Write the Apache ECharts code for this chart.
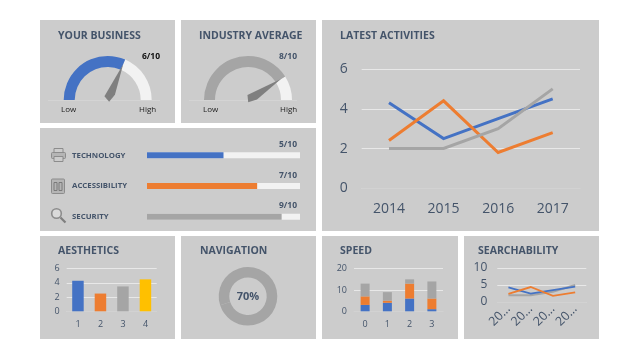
<!DOCTYPE html>
<html><head><meta charset="utf-8">
<style>html,body{margin:0;padding:0;background:#fff}#c{width:638px;height:359px}</style>
<script src="https://cdn.jsdelivr.net/npm/echarts@6/dist/echarts.min.js"></script>
</head><body><div id="c"></div>
<script>
const years = ['2014','2015','2016','2017'];
const blueLine = [4.3,2.5,3.5,4.5];
const orangeLine = [2.4,4.4,1.8,2.8];
const greyLine = [2,2,3,5];
const aestheticsCats = ['1','2','3','4'];
const aestheticsVals = [4.3,2.5,3.5,4.5];
const speedCats = ['0','1','2','3'];
const speedBlue = [3,4,6,1];
const speedOrange = [4,1,7,5];
const speedGrey = [6,4,2,8];
const gaugeBusiness = 6.3;
const gaugeIndustry = 8.2;
const barCats = ['TECHNOLOGY','ACCESSIBILITY','SECURITY'];
const barVals = [5,7.2,8.8];
const barLabels = ['5/10','7/10','9/10'];
const navigationVals = [70,30];

const BLUE='#4472C4',ORANGE='#ED7D31',GREY='#A5A5A5',GOLD='#FFC000',PANEL='#CCCCCC',INK='#44546A',WHITE='#F2F2F2';
const FONT='"Open Sans"';
const panels=[[40,20,135,103],[181,20,135,103],[322,20,277,211],[40,128,276,103],[40,236,135,103],[181,236,135,103],[322,236,136,103],[464,236,135,103]];
const titles=[['YOUR BUSINESS',58,36],['INDUSTRY AVERAGE',199,36],['LATEST ACTIVITIES',340,36],['AESTHETICS',58,251.5],['NAVIGATION',200,251.5],['SPEED',340,251.5],['SEARCHABILITY',478,251.5]];
const g=[];
panels.forEach(p=>g.push({type:'rect',z:-1,silent:true,shape:{x:p[0],y:p[1],width:p[2],height:p[3]},style:{fill:PANEL}}));
function txt(t,x,y,o){g.push({type:'text',z:5,silent:true,x,y,style:Object.assign({text:t,font:'11px '+FONT,fill:INK,textVerticalAlign:'middle',textAlign:'left'},o||{})});}
titles.forEach(t=>txt(t[0],t[1],t[2],{font:'bold 10.5px '+FONT}));
[[48,160],[189,297]].forEach(a=>g.push({type:'line',z:1,silent:true,shape:{x1:a[0],y1:100.5,x2:a[1],y2:100.5},style:{stroke:'#D4D4D4',lineWidth:1}}));
txt('Low',61,109.5,{font:'8px '+FONT,fill:'#222'});
txt('High',139,109.5,{font:'8px '+FONT,fill:'#222'});
txt('Low',203,109.5,{font:'8px '+FONT,fill:'#222'});
txt('High',280,109.5,{font:'8px '+FONT,fill:'#222'});
txt('6/10',142,57,{font:'bold 8.5px '+FONT,fill:'#111'});
txt('8/10',279,57,{font:'bold 8.5px '+FONT});
barCats.forEach((c,i)=>{
  const y=[155.5,186,216.5][i];
  txt(c,72,y,{font:'bold 7.8px '+FONT});
  txt(barLabels[i],297,y-10.5,{font:'bold 8.5px '+FONT,textAlign:'right'});
});
txt('70%',248,297,{font:'bold 11px '+FONT,textAlign:'center'});
const IC='#8C8C8C';
g.push({type:'rect',silent:true,z:3,shape:{x:54,y:148.5,width:9,height:4},style:{fill:'none',stroke:IC,lineWidth:1}});
g.push({type:'rect',silent:true,z:3,shape:{x:51.5,y:152.5,width:14,height:6,r:1},style:{fill:'#B5B5B5',stroke:IC,lineWidth:1}});
g.push({type:'rect',silent:true,z:3,shape:{x:54,y:156.5,width:9,height:5},style:{fill:PANEL,stroke:IC,lineWidth:1}});
g.push({type:'rect',silent:true,z:3,shape:{x:51.5,y:179,width:13,height:14.5,r:1},style:{fill:'#B5B5B5',stroke:IC,lineWidth:1}});
g.push({type:'rect',silent:true,z:3,shape:{x:54,y:182.5,width:3,height:8},style:{fill:'none',stroke:'#7A7A7A',lineWidth:1}});
g.push({type:'rect',silent:true,z:3,shape:{x:59,y:182.5,width:3,height:8},style:{fill:'none',stroke:'#7A7A7A',lineWidth:1}});
g.push({type:'circle',silent:true,z:3,shape:{cx:56.5,cy:213.5,r:4.8},style:{fill:'#DADADA',stroke:IC,lineWidth:1.6}});
g.push({type:'line',silent:true,z:3,shape:{x1:60.5,y1:217.5,x2:65.5,y2:222.5},style:{stroke:'#7F7F7F',lineWidth:2.2}});

function gauge(cx,val,col){
  return {type:'gauge',center:[cx,100],radius:44,startAngle:180,endAngle:0,min:0,max:10,z:3,
    axisLine:{lineStyle:{width:11,color:[[val/10,col],[1,WHITE]]}},
    axisTick:{show:false},splitLine:{show:false},axisLabel:{show:false},detail:{show:false},title:{show:false},
    pointer:{icon:'path://M50 0 L100 78 L72 100 L0 92 Z',length:40,width:9,offsetCenter:[0,1],itemStyle:{color:'#7F7F7F'}},
    anchor:{show:false},silent:true,animation:false,data:[{value:val}]};
}
const grids=[
 {left:147,width:153,top:140,height:92},
 {left:361.7,width:218.3,top:69,height:119.3},
 {left:66.7,width:90,top:268.7,height:42.6},
 {left:354,width:89,top:268.7,height:42.6},
 {left:497.3,width:89,top:268,height:34}
];
function cat(i,data,size,extra){return Object.assign({type:'category',gridIndex:i,data,axisTick:{show:false},axisLine:{lineStyle:{color:'#D2D2D2',width:1}},axisLabel:Object.assign({color:INK,fontFamily:FONT,fontSize:size},extra||{})});}
function val(i,max,interval,size,margin){return {type:'value',gridIndex:i,min:0,max,interval,axisLine:{show:false},axisTick:{show:false},splitLine:{lineStyle:{color:'#E8E8E8',width:1}},axisLabel:{color:INK,fontFamily:FONT,fontSize:size,margin,padding:[2,0,0,0]}};}
function line(name,data,x,color,w){return {type:'line',name,xAxisIndex:x,yAxisIndex:x,data,symbol:'none',lineStyle:{color,width:w,cap:'butt',join:'miter'},itemStyle:{color}};}
function stack(name,data,color){return {type:'bar',name,stack:'s',xAxisIndex:3,yAxisIndex:3,data,barWidth:9,itemStyle:{color}};}
const option={
 animation:false,backgroundColor:'#fff',graphic:{elements:g},
 grid:grids,
 xAxis:[
  {type:'value',gridIndex:0,min:0,max:10,show:false},
  cat(1,years,14,{margin:14}),
  cat(2,aestheticsCats,9,{margin:9}),
  cat(3,speedCats,9,{margin:9}),
  cat(4,years,12.5,{margin:5,rotate:45,interval:0,formatter:()=>'20...'})
 ],
 yAxis:[
  {type:'category',gridIndex:0,inverse:true,data:barCats,show:false},
  val(1,6,2,14,14),
  val(2,6,2,9,7),
  val(3,20,10,9,7),
  val(4,10,5,12,10)
 ],
 series:[
  gauge(107.7,gaugeBusiness,BLUE),
  gauge(248,gaugeIndustry,GREY),
  {type:'bar',xAxisIndex:0,yAxisIndex:0,data:barCats.map(()=>10),barWidth:6,barGap:'-100%',itemStyle:{color:WHITE},silent:true},
  {type:'bar',xAxisIndex:0,yAxisIndex:0,data:[{value:barVals[0],itemStyle:{color:BLUE}},{value:barVals[1],itemStyle:{color:ORANGE}},{value:barVals[2],itemStyle:{color:GREY}}],barWidth:6,barGap:'-100%'},
  line('A',blueLine,1,BLUE,3),
  line('B',orangeLine,1,ORANGE,3),
  line('C',greyLine,1,GREY,3),
  {type:'bar',xAxisIndex:2,yAxisIndex:2,barWidth:11.5,data:aestheticsVals.map((v,i)=>({value:v,itemStyle:{color:[BLUE,ORANGE,GREY,GOLD][i]}}))},
  stack('A',speedBlue,BLUE),stack('B',speedOrange,ORANGE),stack('C',speedGrey,GREY),
  line('C2',greyLine,4,GREY,2),
  line('A2',blueLine,4,BLUE,1.75),
  line('B2',orangeLine,4,ORANGE,1.75),
  {type:'pie',center:[248,296.3],radius:[18.7,29.3],silent:true,label:{show:false},labelLine:{show:false},itemStyle:{color:GREY},data:navigationVals}
 ]
};
echarts.init(document.getElementById('c'),null,{renderer:'canvas'}).setOption(option);
</script></body></html>
